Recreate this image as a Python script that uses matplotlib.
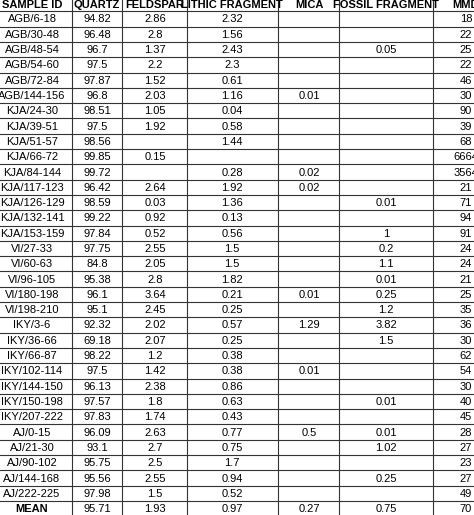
import matplotlib
matplotlib.use("Agg")
import matplotlib.pyplot as plt

headers = ["SAMPLE ID", "QUARTZ", "FELDSPAR", "LITHIC FRAGMENT", "MICA", "FOSSIL FRAGMENT", "MMD"]
sample_ids = ["AGB/6-18", "AGB/30-48", "AGB/48-54", "AGB/54-60", "AGB/72-84", "AGB/144-156",
              "KJA/24-30", "KJA/39-51", "KJA/51-57", "KJA/66-72", "KJA/84-144", "KJA/117-123",
              "KJA/126-129", "KJA/132-141", "KJA/153-159", "VI/27-33", "VI/60-63", "VI/96-105",
              "VI/180-198", "VI/198-210", "IKY/3-6", "IKY/36-66", "IKY/66-87", "IKY/102-114",
              "IKY/144-150", "IKY/150-198", "IKY/207-222", "AJ/0-15", "AJ/21-30", "AJ/90-102",
              "AJ/144-168", "AJ/222-225", "MEAN"]
quartz = ["94.82", "96.48", "96.7", "97.5", "97.87", "96.8", "98.51", "97.5", "98.56", "99.85", "99.72",
          "96.42", "98.59", "99.22", "97.84", "97.75", "84.8", "95.38", "96.1", "95.1", "92.32", "69.18",
          "98.22", "97.5", "96.13", "97.57", "97.83", "96.09", "93.1", "95.75", "95.56", "97.98", "95.71"]
feldspar = ["2.86", "2.8", "1.37", "2.2", "1.52", "2.03", "1.05", "1.92", "", "0.15", "", "2.64", "0.03",
            "0.92", "0.52", "2.55", "2.05", "2.8", "3.64", "2.45", "2.02", "2.07", "1.2", "1.42", "2.38",
            "1.8", "1.74", "2.63", "2.7", "2.5", "2.55", "1.5", "1.93"]
lithic = ["2.32", "1.56", "2.43", "2.3", "0.61", "1.16", "0.04", "0.58", "1.44", "", "0.28", "1.92", "1.36",
          "0.13", "0.56", "1.5", "1.5", "1.82", "0.21", "0.25", "0.57", "0.25", "0.38", "0.38", "0.86",
          "0.63", "0.43", "0.77", "0.75", "1.7", "0.94", "0.52", "0.97"]
mica = ["", "", "", "", "", "0.01", "", "", "", "", "0.02", "0.02", "", "", "", "", "", "", "0.01", "",
        "1.29", "", "", "0.01", "", "", "", "0.5", "", "", "", "", "0.27"]
fossil = ["", "", "0.05", "", "", "", "", "", "", "", "", "", "0.01", "", "1", "0.2", "1.1", "0.01", "0.25",
          "1.2", "3.82", "1.5", "", "", "", "0.01", "", "0.01", "1.02", "", "0.25", "", "0.75"]
mmd = ["18", "22", "25", "22", "46", "30", "90", "39", "68", "6664", "3564", "21", "71", "94", "91", "24",
       "24", "21", "25", "35", "36", "30", "62", "54", "30", "40", "45", "28", "27", "23", "27", "49", "70"]

columns = [sample_ids, quartz, feldspar, lithic, mica, fossil, mmd]

fig = plt.figure(figsize=(4.74, 5.15), dpi=100)
ax = fig.add_axes([0, 0, 1, 1])
ax.set_xlim(0, 474)
ax.set_ylim(515, 0)
ax.axis("off")

row_h = 15.3
y0 = 3.7
col_lines = [-2, 72, 122, 187, 278, 339, 433, 500]
col_centers = [32, 97, 155, 232, 309, 386, 466]
lc = "#333333"

nrows = len(sample_ids) + 1
for i in range(nrows + 1):
    y = y0 - row_h / 2 + i * row_h
    ax.plot([-2, 500], [y, y], color=lc, lw=0.8)
for x in col_lines:
    ax.plot([x, x], [y0 - row_h / 2, y0 - row_h / 2 + nrows * row_h], color=lc, lw=0.8)

fs = 8
fam = ["Liberation Sans", "DejaVu Sans"]
for c, h in enumerate(headers):
    ax.text(col_centers[c], y0 + 1, h, ha="center", va="center", fontsize=fs,
            fontweight="bold", family=fam)
for c, col in enumerate(columns):
    for r, v in enumerate(col):
        bold = (c == 0 and v == "MEAN")
        ax.text(col_centers[c], y0 + (r + 1) * row_h + 0.5, v, ha="center", va="center",
                fontsize=fs, family=fam, fontweight="bold" if bold else "normal")

fig.savefig("out.png", dpi=100)
